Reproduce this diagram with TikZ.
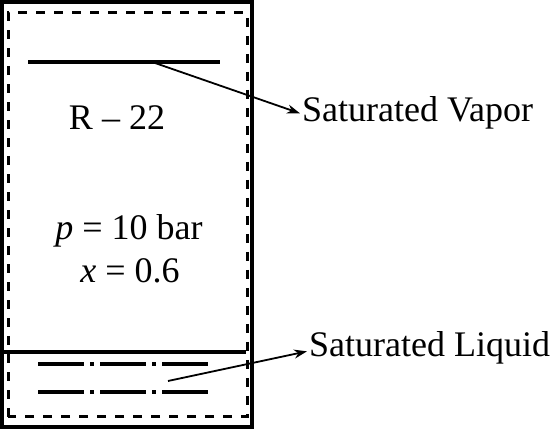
\documentclass[tikz,border=0pt]{standalone}
\usepackage{fontspec}
\setmainfont{Liberation Serif}
\usetikzlibrary{arrows.meta, positioning, calc}

\begin{document}
\begin{tikzpicture}[
    x=1pt, y=1pt,
    wall/.style={draw, line width=3.4pt},
    vessel/.style={draw, line width=3pt, dash pattern=on 9pt off 9pt},
    surface/.style={line width=3.2pt},
    liquidmark/.style={line width=3.2pt, dash pattern=on 46pt off 6pt on 4pt off 6pt},
    label/.style={font=\fontsize{36}{40}\selectfont, inner sep=2pt},
    arrow/.style={-{Stealth[length=13pt, width=9pt]}, line width=1.8pt}
  ]
    \useasboundingbox (0,0) rectangle (554,430);

    % Tank walls
    \draw[wall] (2,3) rectangle (252,428);
    \draw[vessel] (8,13) rectangle (247,417);

    % Vapor and liquid surfaces
    \coordinate (vapL) at (28,368);
    \coordinate (vapR) at (220,368);
    \draw[surface] (vapL) -- (vapR);
    \coordinate (liqL) at (2,78);
    \coordinate (liqR) at (246,78);
    \draw[surface] (liqL) -- (liqR);
    \draw[liquidmark] (38,66) -- (213,66);
    \draw[liquidmark] (38,38) -- (213,38);

    % Texts
    \node[label, anchor=base] (fluid) at (117,300) {R -- 22};
    \node[label, anchor=base] (press) at (129,190) {\textit{p} = 10 bar};
    \node[label, anchor=base] (qual) at (130,147) {\textit{x} = 0.6};
    \node[label, anchor=base west] (vapor) at (300,308) {Saturated Vapor};
    \node[label, anchor=base west] (liquid) at (307,73) {Saturated Liquid};

    % Arrows
    \coordinate (vapstart) at (155,367);
    \coordinate (liqstart) at (168,49);
    \draw[arrow] (vapstart) -- (vapor.west);
    \draw[arrow] (liqstart) -- ($(liquid.west)+(0,-3)$);
  \end{tikzpicture}
\end{document}
